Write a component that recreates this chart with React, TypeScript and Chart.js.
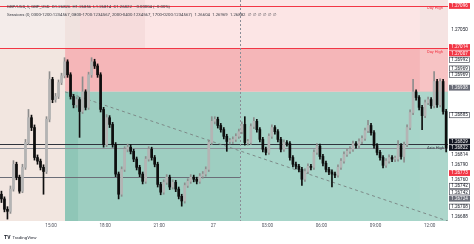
import React, { useEffect, useRef } from "react";
import { Chart, registerables } from "chart.js";
Chart.register(...registerables);

const FONT = "Roboto, 'Liberation Sans', Arial, sans-serif";

// ---- time axis (hours from 00:00 of the 26th) ----
const viewStartHour = 12.17;
const viewEndHour = 37.02;
const firstCandleHour = 12.25;
const candleStepHours = 1 / 6; // 10-minute candles

// ---- candle values ----
const opens = [
  1.26732, 1.26723, 1.26703, 1.26699, 1.26742, 1.2679, 1.26765, 1.26738, 1.26784, 1.26832,
  1.2688, 1.26861, 1.26803, 1.26796, 1.26784, 1.26776, 1.26877, 1.26954, 1.26915, 1.26921,
  1.26948, 1.26961, 1.26988, 1.26963, 1.26921, 1.26905, 1.26915, 1.26892, 1.2693, 1.269,
  1.26963, 1.26988, 1.2698, 1.26963, 1.26896, 1.26828, 1.2688, 1.26867, 1.26828, 1.26771,
  1.26732, 1.2678, 1.26819, 1.26823, 1.26815, 1.268, 1.26784, 1.26771, 1.26757, 1.268,
  1.26819, 1.26803, 1.2679, 1.26751, 1.26736, 1.26755, 1.26765, 1.26746, 1.26755, 1.26742,
  1.26728, 1.26719, 1.26749, 1.26757, 1.26765, 1.26761, 1.26757, 1.26767, 1.26771, 1.2678,
  1.26832, 1.26873, 1.26877, 1.26865, 1.26857, 1.26844, 1.26834, 1.26834, 1.26838, 1.26844,
  1.26853, 1.26867, 1.26832, 1.26832, 1.26863, 1.26873, 1.26857, 1.26838, 1.26819, 1.26813,
  1.26844, 1.26861, 1.26853, 1.26838, 1.26819, 1.26832, 1.2683, 1.26803, 1.2679, 1.26786,
  1.2678, 1.26761, 1.26776, 1.26786, 1.26784, 1.26813, 1.26825, 1.26805, 1.26792, 1.2678,
  1.26775, 1.26771, 1.26769, 1.26784, 1.26796, 1.26809, 1.26815, 1.26819, 1.2683, 1.26826,
  1.26834, 1.2684, 1.26855, 1.26865, 1.26851, 1.26826, 1.26813, 1.26803, 1.26788, 1.26796,
  1.26803, 1.268, 1.268, 1.26826, 1.26805, 1.26828, 1.26861, 1.2689, 1.2693, 1.26919,
  1.269, 1.26884, 1.26909, 1.26915, 1.26903, 1.2695, 1.26905, 1.2695, 1.26892,
];
const highs = [
  1.26738, 1.26727, 1.26708, 1.26748, 1.26797, 1.26794, 1.26769, 1.2679, 1.26838, 1.26896,
  1.26885, 1.26866, 1.26808, 1.268, 1.26789, 1.26882, 1.26969, 1.26958, 1.26927, 1.26953,
  1.26966, 1.26996, 1.26992, 1.26967, 1.26925, 1.2692, 1.26919, 1.26959, 1.26934, 1.26968,
  1.26996, 1.26993, 1.26984, 1.26967, 1.269, 1.26886, 1.26884, 1.26871, 1.26832, 1.26775,
  1.26785, 1.26824, 1.26829, 1.26828, 1.26819, 1.26804, 1.26788, 1.26775, 1.26805, 1.26824,
  1.26823, 1.26807, 1.26794, 1.26755, 1.2676, 1.2677, 1.26769, 1.2676, 1.26759, 1.26746,
  1.26732, 1.26754, 1.26762, 1.2677, 1.26769, 1.26765, 1.26772, 1.26776, 1.26785, 1.26837,
  1.26882, 1.26882, 1.26881, 1.26869, 1.26861, 1.26848, 1.2684, 1.26843, 1.26849, 1.26858,
  1.26872, 1.26882, 1.26838, 1.26868, 1.2688, 1.26877, 1.26861, 1.26842, 1.26823, 1.26849,
  1.26866, 1.26865, 1.26857, 1.26842, 1.26837, 1.26836, 1.26834, 1.26807, 1.26794, 1.2679,
  1.26784, 1.26781, 1.26791, 1.2679, 1.26818, 1.2683, 1.26829, 1.26809, 1.26796, 1.26784,
  1.26779, 1.26775, 1.26789, 1.26801, 1.26814, 1.2682, 1.26824, 1.26835, 1.26834, 1.26839,
  1.26845, 1.2686, 1.26875, 1.26869, 1.26855, 1.2683, 1.26817, 1.26807, 1.26801, 1.26808,
  1.26807, 1.26806, 1.26836, 1.2683, 1.26833, 1.26866, 1.26895, 1.26954, 1.26934, 1.26923,
  1.26904, 1.26914, 1.2692, 1.26919, 1.26969, 1.26954, 1.26955, 1.26954, 1.26896,
];
const lows = [
  1.26716, 1.26698, 1.26684, 1.26695, 1.26738, 1.2676, 1.26734, 1.26735, 1.2678, 1.26828,
  1.26855, 1.26798, 1.2679, 1.26779, 1.26732, 1.26772, 1.26872, 1.26909, 1.2691, 1.26917,
  1.26944, 1.26957, 1.26958, 1.26916, 1.26899, 1.269, 1.26842, 1.26888, 1.26895, 1.26896,
  1.26958, 1.26975, 1.26958, 1.26891, 1.26823, 1.26824, 1.26861, 1.26823, 1.26766, 1.26723,
  1.26728, 1.26776, 1.26814, 1.2681, 1.26795, 1.26779, 1.26766, 1.26752, 1.26753, 1.26796,
  1.26798, 1.26785, 1.26746, 1.26731, 1.26732, 1.26751, 1.26741, 1.26742, 1.26737, 1.26723,
  1.26709, 1.26715, 1.26745, 1.26753, 1.26756, 1.26752, 1.26753, 1.26763, 1.26767, 1.26776,
  1.26828, 1.26868, 1.2686, 1.26852, 1.26839, 1.26815, 1.26829, 1.2683, 1.26834, 1.2684,
  1.26849, 1.26827, 1.26827, 1.26828, 1.26859, 1.26852, 1.26833, 1.26814, 1.26808, 1.26809,
  1.2684, 1.26848, 1.26833, 1.26814, 1.26815, 1.26825, 1.26798, 1.26785, 1.26781, 1.26775,
  1.26749, 1.26757, 1.26772, 1.26779, 1.2678, 1.26809, 1.268, 1.26787, 1.26775, 1.2677,
  1.26746, 1.26764, 1.26765, 1.2678, 1.26792, 1.26805, 1.26811, 1.26815, 1.26821, 1.26822,
  1.2683, 1.26836, 1.26851, 1.26846, 1.26821, 1.26808, 1.26798, 1.26783, 1.26784, 1.26792,
  1.26795, 1.26795, 1.26796, 1.268, 1.26794, 1.26824, 1.26857, 1.26886, 1.26914, 1.26895,
  1.26857, 1.2688, 1.26905, 1.26898, 1.26899, 1.269, 1.26901, 1.26887, 1.26814,
];
const closes = [
  1.26723, 1.26703, 1.26699, 1.26742, 1.2679, 1.26765, 1.26738, 1.26784, 1.26832, 1.2688,
  1.26861, 1.26803, 1.26796, 1.26784, 1.26776, 1.26877, 1.26954, 1.26915, 1.26921, 1.26948,
  1.26961, 1.26988, 1.26963, 1.26921, 1.26905, 1.26915, 1.26892, 1.2693, 1.269, 1.26963,
  1.26988, 1.2698, 1.26963, 1.26896, 1.26828, 1.2688, 1.26867, 1.26828, 1.26771, 1.26732,
  1.2678, 1.26819, 1.26823, 1.26815, 1.268, 1.26784, 1.26771, 1.26757, 1.268, 1.26819,
  1.26803, 1.2679, 1.26751, 1.26736, 1.26755, 1.26765, 1.26746, 1.26755, 1.26742, 1.26728,
  1.26719, 1.26749, 1.26757, 1.26765, 1.26761, 1.26757, 1.26767, 1.26771, 1.2678, 1.26832,
  1.26873, 1.26877, 1.26865, 1.26857, 1.26844, 1.26834, 1.26834, 1.26838, 1.26844, 1.26853,
  1.26867, 1.26832, 1.26832, 1.26863, 1.26873, 1.26857, 1.26838, 1.26819, 1.26813, 1.26844,
  1.26861, 1.26853, 1.26838, 1.26819, 1.26832, 1.2683, 1.26803, 1.2679, 1.26786, 1.2678,
  1.26761, 1.26776, 1.26786, 1.26784, 1.26813, 1.26825, 1.26805, 1.26792, 1.2678, 1.26775,
  1.26771, 1.26769, 1.26784, 1.26796, 1.26809, 1.26815, 1.26819, 1.2683, 1.26826, 1.26834,
  1.2684, 1.26855, 1.26865, 1.26851, 1.26826, 1.26813, 1.26803, 1.26788, 1.26796, 1.26803,
  1.268, 1.268, 1.26826, 1.26805, 1.26828, 1.26861, 1.2689, 1.2693, 1.26919, 1.269,
  1.26884, 1.26909, 1.26915, 1.26903, 1.2695, 1.26905, 1.2695, 1.26892, 1.26822,
];

// ---- price scale ----
const priceMin = 1.266803;
const priceMax = 1.2710755;

// ---- levels / sessions ----
const dayHighUpper = 1.27096;
const dayHighLower = 1.27014;
const pinkBoxBottom = 1.2693;
const asiaHigh = 1.26829;
const lastPrice = 1.26822;
const leftLevel = 1.26765;
const sessionBoxStartHour = 15.78;
const sessionEdgeHour = 16.5;
const topTintStartHour = 16.61;
const topTintEndHour = 20.21;
const dayBreakHour = 25.48;
const lateSessionHour = 35.46;
const trendStart = [15.78, 1.2693];
const trendEnd = [37.02, 1.2668];

// ---- time axis labels ----
const timeTickHours = [15, 18, 21, 24, 27, 30, 33, 36];
const timeTickLabels = ["15:00", "18:00", "21:00", "27", "03:00", "06:00", "09:00", "12:00"];

// ---- price axis labels ----
const axisLabelValues = [
  1.27096, 1.2705, 1.27014, 1.27007, 1.26992, 1.26969, 1.26969, 1.26938, 1.26885, 1.26829,
  1.26822, 1.26814, 1.2679, 1.26773, 1.2676, 1.26742, 1.26742, 1.26724, 1.26708, 1.26688,
];
const axisLabelKinds = [
  "red", "plain", "red", "red", "outline", "outline", "outline", "gray", "outline", "black",
  "black", "plain", "plain", "red", "plain", "outline", "outline", "gray", "outline", "plain",
];

const headerLine1 = "GBP/USD, 5, GBP_USD  O1.26826  H1.26856  L1.26814  C1.26822  −0.00004 (−0.00%)";
const headerLine2 =
  "Sessions (0, 0300-1200:1234567, 0800-1700:1234567, 2000-0400:1234567, 1700-0200:1234567)  1.26604  1.26969  1.26882  ∅  ∅  ∅  ∅  ∅  ∅";

function spreadLabels(ys: number[], h: number): number[] {
  const order = ys.map((_, i) => i).sort((a, b) => ys[a] - ys[b]);
  let groups = order.map((i) => ({ items: [i], center: ys[i] }));
  let changed = true;
  while (changed) {
    changed = false;
    for (let g = 0; g < groups.length - 1; g++) {
      const a = groups[g];
      const b = groups[g + 1];
      if (a.center + (a.items.length * h) / 2 > b.center - (b.items.length * h) / 2) {
        const items = a.items.concat(b.items);
        const center = items.reduce((s, i) => s + ys[i], 0) / items.length;
        groups.splice(g, 2, { items, center });
        changed = true;
        break;
      }
    }
  }
  const out = ys.slice();
  groups.forEach((g) => {
    const top = g.center - (g.items.length * h) / 2;
    g.items.forEach((i, k) => (out[i] = top + h * (k + 0.5)));
  });
  return out;
}

const backgroundPlugin = {
  id: "tvBackground",
  beforeDatasetsDraw(chart: any) {
    const { ctx, chartArea: a, scales } = chart;
    const X = (t: number) => scales.x.getPixelForValue(t);
    const Y = (p: number) => scales.y.getPixelForValue(p);
    const rect = (x0: number, y0: number, x1: number, y1: number, c: string) => {
      ctx.fillStyle = c;
      ctx.fillRect(x0, y0, x1 - x0, y1 - y0);
    };
    ctx.save();
    ctx.beginPath();
    ctx.rect(a.left, a.top, a.width, a.height);
    ctx.clip();
    const xs = X(sessionBoxStartHour);
    const yDay = Y(dayHighLower);
    const yPink = Y(pinkBoxBottom);
    // left zone
    rect(a.left, a.top, xs, a.bottom, "#f2e6e0");
    rect(a.left, a.top, xs, yDay, "#f4ecea");
    // top strip
    rect(xs, a.top, a.right, yDay, "#fce5e5");
    rect(xs, a.top, X(topTintStartHour), yDay, "#f0e2df");
    rect(X(topTintStartHour), a.top, X(topTintEndHour), yDay, "#f6dcdc");
    rect(X(lateSessionHour), a.top, a.right, yDay, "#f5e3e2");
    // pink box
    rect(xs, yDay, a.right, yPink, "#f5b6b8");
    rect(X(lateSessionHour), yDay, a.right, yPink, "#f7c3c4");
    // green box
    rect(xs, yPink, a.right, a.bottom, "#a7d5c9");
    rect(xs, yPink, X(dayBreakHour), a.bottom, "#9ecec1");
    rect(xs, yPink, X(sessionEdgeHour), a.bottom, "#8fc6b7");
    rect(X(lateSessionHour), yPink, a.right, a.bottom, "#acd6cb");

    const hline = (p: number, x0: number, x1: number, c: string) => {
      const yy = Math.round(Y(p)) + 0.5;
      ctx.strokeStyle = c;
      ctx.lineWidth = 1;
      ctx.beginPath();
      ctx.moveTo(x0, yy);
      ctx.lineTo(x1, yy);
      ctx.stroke();
    };
    hline(dayHighUpper, a.left, a.right, "#f23645");
    hline(dayHighLower, a.left, a.right, "#f23645");
    hline(leftLevel, a.left, X(dayBreakHour), "#6b6e78");
    hline(lastPrice, a.left, a.right, "#8c8f98");
    hline(asiaHigh, a.left, a.right, "#30343d");

    // dashed vertical day break
    ctx.setLineDash([2, 2]);
    ctx.strokeStyle = "#8a8d96";
    ctx.beginPath();
    const xb = Math.round(X(dayBreakHour)) + 0.5;
    ctx.moveTo(xb, a.top);
    ctx.lineTo(xb, a.bottom);
    ctx.stroke();
    // dashed trend line
    ctx.setLineDash([3, 3]);
    ctx.strokeStyle = "#7d8a88";
    ctx.beginPath();
    ctx.moveTo(X(trendStart[0]), Y(trendStart[1]));
    ctx.lineTo(X(trendEnd[0]), Y(trendEnd[1]));
    ctx.stroke();
    ctx.setLineDash([]);

    // level texts
    ctx.font = `4px ${FONT}`;
    ctx.textAlign = "right";
    ctx.textBaseline = "top";
    ctx.fillStyle = "#f23645";
    ctx.fillText("Day High", a.right - 5, Y(dayHighUpper) + 0.5);
    ctx.fillText("Day High", a.right - 5, Y(dayHighLower) + 1.5);
    ctx.fillStyle = "#30343d";
    ctx.fillText("Asia High", a.right - 4, Y(asiaHigh) + 2);
    ctx.restore();
  },
  afterDraw(chart: any) {
    const { ctx, chartArea: a, scales } = chart;
    ctx.save();
    // header
    ctx.font = `4.3px ${FONT}`;
    ctx.fillStyle = "#3a3d45";
    ctx.textAlign = "left";
    ctx.textBaseline = "middle";
    ctx.fillText(headerLine1, 7, 6.5);
    ctx.fillText(headerLine2, 7, 15);

    // price axis area
    ctx.fillStyle = "#ffffff";
    ctx.fillRect(a.right, 0, chart.width - a.right, chart.height);
    const h = 6.4;
    const ys = spreadLabels(axisLabelValues.map((v) => scales.y.getPixelForValue(v)), h);
    ctx.font = `4.6px ${FONT}`;
    ctx.textAlign = "center";
    ctx.textBaseline = "middle";
    const bx = a.right + 1;
    const bw = 21;
    axisLabelValues.forEach((v, i) => {
      const kind = axisLabelKinds[i];
      const yc = ys[i];
      let bg: string | null = null;
      let fg = "#131722";
      let border: string | null = null;
      if (kind === "red") { bg = "#f23645"; fg = "#ffffff"; }
      if (kind === "gray") { bg = "#6a6d78"; fg = "#ffffff"; }
      if (kind === "black") { bg = "#131722"; fg = "#ffffff"; }
      if (kind === "outline") { bg = "#ffffff"; border = "#50535e"; }
      if (bg) {
        ctx.fillStyle = bg;
        ctx.fillRect(bx, yc - h / 2 + 0.3, bw, h - 0.6);
      }
      if (border) {
        ctx.strokeStyle = border;
        ctx.lineWidth = 0.7;
        ctx.strokeRect(bx + 0.5, yc - h / 2 + 0.6, bw - 1, h - 1.2);
      }
      ctx.fillStyle = fg;
      ctx.fillText(v.toFixed(5), bx + bw / 2, yc + 0.2);
    });

    // time axis
    ctx.fillStyle = "#ffffff";
    ctx.fillRect(0, a.bottom, a.right, chart.height - a.bottom);
    ctx.fillStyle = "#50535e";
    ctx.font = `4.6px ${FONT}`;
    ctx.textAlign = "center";
    timeTickHours.forEach((t, i) => {
      ctx.fillText(timeTickLabels[i], scales.x.getPixelForValue(t), a.bottom + 5);
    });

    // logo
    ctx.textAlign = "left";
    ctx.fillStyle = "#131722";
    ctx.font = `bold 5px ${FONT}`;
    ctx.fillText("TV", 4, 238);
    ctx.font = `4.4px ${FONT}`;
    ctx.fillStyle = "#2a2e39";
    ctx.fillText("TradingView", 12.5, 238);
    ctx.restore();
  },
};

export default function App() {
  const ref = useRef<HTMLCanvasElement | null>(null);
  useEffect(() => {
    document.body.style.margin = "0";
    const canvas = ref.current;
    if (!canvas) return;
    const times = closes.map((_, i) => firstCandleHour + i * candleStepHours);
    const up = closes.map((c, i) => c >= opens[i]);
    const bodyData = closes.map((c, i) => ({ x: times[i], y: [opens[i], c] }));
    const wickData = closes.map((_, i) => ({ x: times[i], y: [lows[i], highs[i]] }));
    const chart = new Chart(canvas, {
      type: "bar",
      data: {
        datasets: [
          {
            label: "body",
            data: bodyData as any,
            backgroundColor: up.map((u) => (u ? "#b4b4b4" : "#0e0e0e")),
            barThickness: 2,
            minBarLength: 1,
            borderWidth: 0,
            grouped: false,
            order: 1,
          } as any,
          {
            label: "wick",
            data: wickData as any,
            backgroundColor: up.map((u) => (u ? "#8d8d8d" : "#0e0e0e")),
            barThickness: 1,
            borderWidth: 0,
            grouped: false,
            order: 2,
          } as any,
        ],
      },
      options: {
        animation: false,
        responsive: false,
        maintainAspectRatio: false,
        devicePixelRatio: 1,
        layout: { padding: { left: 0, right: 26, top: 0, bottom: 23 } },
        plugins: { legend: { display: false }, tooltip: { enabled: false } },
        scales: {
          x: { type: "linear", min: viewStartHour, max: viewEndHour, display: false, offset: false },
          y: { type: "linear", min: priceMin, max: priceMax, display: false },
        },
      },
      plugins: [backgroundPlugin],
    });
    return () => chart.destroy();
  }, []);
  return (
    <div style={{ width: 474, height: 244, background: "#ffffff" }}>
      <canvas ref={ref} width={474} height={244} style={{ width: 474, height: 244, display: "block" }} />
    </div>
  );
}
